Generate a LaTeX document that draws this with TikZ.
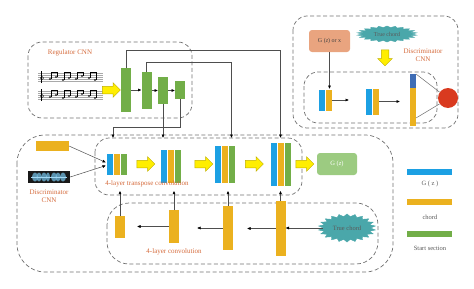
\documentclass[tikz,border=0pt]{standalone}
\usepackage{fontspec}
\setmainfont{Liberation Serif}
\usetikzlibrary{positioning,arrows.meta,calc,shapes.geometric,shapes.arrows}
\definecolor{azul}{HTML}{1CA0E3}
\definecolor{azuloscuro}{HTML}{3F6DB5}
\definecolor{ambar}{HTML}{EBB11F}
\definecolor{verde}{HTML}{72AE48}
\definecolor{verdeclaro}{HTML}{9CCB81}
\definecolor{naranjo}{HTML}{D4693A}
\definecolor{gris}{HTML}{707070}
\definecolor{salmon}{HTML}{E9A47F}
\definecolor{turquesa}{HTML}{4AA7AA}
\definecolor{amarillo}{HTML}{FFEE00}
\definecolor{oliva}{HTML}{BFAE00}
\definecolor{rojo}{HTML}{D93A1F}
% three stripes: name, centre of the blue one, height
\newcommand{\trio}[3]{%
  \node[strip,fill=azul,minimum height=#3] (#1b) at #2 {};
  \node[strip,fill=ambar,minimum height=#3,right=0pt of #1b] (#1y) {};
  \node[strip,fill=verde,minimum height=#3,right=0pt of #1y] (#1g) {};}
\newcommand{\duo}[3]{%
  \node[strip,fill=azul,minimum height=#3] (#1b) at #2 {};
  \node[strip,fill=ambar,minimum height=#3,right=0pt of #1b] (#1y) {};}

\begin{document}
\begin{tikzpicture}[x=1pt,y=-1pt,
    grp/.style={draw=gris,dash pattern=on 4pt off 2.5pt,line width=0.7pt,rounded corners=#1},
    grp/.default=14pt,
    strip/.style={minimum width=7pt,inner sep=0pt,outer sep=0pt,draw=white,line width=0.3pt},
    vbar/.style={minimum width=10pt,inner sep=0pt,outer sep=0pt},
    fl/.style={-{Latex[length=3.5pt,width=3pt,black]},draw=gris!70!black,line width=0.5pt},
    yarr/.style={single arrow,fill=amarillo,draw=oliva,line width=0.5pt,minimum height=18pt,
                 single arrow head extend=3.5pt,inner sep=3.5pt},
    burst/.style={star,star points=22,star point ratio=1.22,fill=turquesa,draw=turquesa,inner sep=0pt},
    txt/.style={font=\fontsize{7}{8}\selectfont,text=naranjo,align=center},
    lgd/.style={font=\fontsize{6.5}{7.5}\selectfont,text=gris!80!black,align=center}]
  \useasboundingbox (0,0) rectangle (474,289);

  % dashed groups
  \draw[grp] (28,42) rectangle (192,118);
  \draw[grp=28pt] (17,135) rectangle (393,272);
  \draw[grp] (95,138) rectangle (302,195);
  \draw[grp=22pt] (107,203) rectangle (378,264);
  \draw[grp] (293,16) rectangle (458,128);
  \draw[grp] (304,72) rectangle (437,123);

  % regulator CNN
  \node[txt] (regt) at (70,53) {Regulator CNN};
  \foreach \s in {73,91}{
    \foreach \k in {0,...,4}
      \draw[gris!60,line width=0.25pt] (38,\s+2*\k) -- (103,\s+2*\k);
    \draw[line width=0.6pt] (41,\s+10) -- (41,\s-2);
    \draw[line width=0.4pt] (42,\s+5) circle (1.6pt);
    \foreach \x/\h in {50/6,56/4,63/7,69/5,76/6,82/3,89/5,95/7}{
      \fill (\x,\s+\h) ellipse (1.1pt and 0.8pt);
      \draw[line width=0.3pt] (\x+1,\s+\h) -- (\x+1,\s-1);}
    \draw[line width=0.8pt] (51,\s-1) -- (57,\s-1) (64,\s-1) -- (70,\s-1)
                           (77,\s-1) -- (83,\s-1) (90,\s-1) -- (96,\s-1);
  }
  \node[yarr] (ra) at (109.5,90) {};
  \node[vbar,fill=verde,minimum height=44pt] (r1) at (126,90) {};
  \node[vbar,fill=verde,minimum height=37pt] (r2) at (146.5,90.5) {};
  \node[vbar,fill=verde,minimum height=27pt] (r3) at (163,90.5) {};
  \node[vbar,fill=verde,minimum height=18pt] (r4) at (180,90) {};
  \draw[fl] (r1.east) -- (r1.east -| r2.west);
  \draw[fl] (r2.east) -- (r2.east -| r3.west);
  \draw[fl] (r3.east) -- (r3.east -| r4.west);

  % transpose convolution
  \trio{g1}{(109.5,164)}{22pt}
  \trio{g2}{(163.5,166)}{34pt}
  \trio{g3}{(217.5,164)}{38pt}
  \trio{g4}{(273.5,164)}{44pt}
  \node[yarr] at (144,164) {};
  \node[yarr] at (202,164) {};
  \node[yarr] at (252.5,164) {};
  \node[yarr] at (303,164) {};
  \node[rounded corners=3pt,fill=verdeclaro,minimum width=40pt,minimum height=22pt,
        font=\fontsize{6.5}{7.5}\selectfont,text=white] (gz) at (337,164) {G (\textit{z})};
  \node[txt] (ttl) at (147,184) {4-layer transpose convolution};

  \node[vbar,fill=ambar,minimum width=33pt,minimum height=10pt] (ybar) at (52.5,146) {};
  \node[fill=black!90,minimum width=42pt,minimum height=12pt,inner sep=0pt] (spec) at (49,177) {};
  \foreach \x/\r in {35/3,39/2.5,44/3,48/2,54/3,58/2.5,63/3}
    \fill[azul!60!white,opacity=0.7] (\x,177) ellipse (\r pt and 4.5pt);
  \draw[azul!40!white,line width=0.3pt] (31,177) -- (67,177);
  \node[txt] (dsct) at (49,196) {Discriminator\\CNN};
  \draw[fl] (ybar.east) -- ([yshift=1.5pt]g1b.west);
  \draw[fl] (spec.east) -- ([yshift=-1.5pt]g1b.west);

  % convolution
  \node[vbar,fill=ambar,minimum height=22pt] (c1) at (120,227) {};
  \node[vbar,fill=ambar,minimum height=33pt] (c2) at (174,226.5) {};
  \node[vbar,fill=ambar,minimum height=44pt] (c3) at (228,228) {};
  \node[vbar,fill=ambar,minimum height=55pt] (c4) at (280.5,228.5) {};
  \node[burst,minimum size=28pt,xscale=2.05] (tc2) at (347,228) {};
  \node[lgd,text=gris!80!black] at (tc2) {True chord};
  \node[txt] (ctl) at (174,252) {4-layer convolution};
  \draw[fl] (tc2.west) -- (tc2.west -| c4.east);
  \draw[fl,shorten >=14pt] (c4.west) -- (c4.west -| c3.east);
  \draw[fl,shorten >=18pt] (c3.west) -- (c3.west -| c2.east);
  \draw[fl,shorten >=12pt] (c2.west) -- (c2.west -| c1.east);
  \foreach \c in {c1,c2,c3,c4}
    \draw[fl] (\c.north) -- (\c.north |- ttl.south);

  % links from the regulator
  \coordinate (k1) at (0,50);
  \coordinate (k2) at (0,62);
  \coordinate (k4) at (0,127);
  \coordinate (tt) at (0,138);
  \draw[fl] (r1.north) |- (g4y |- k1) -- (g4y |- tt);
  \draw[fl] (r2.north) |- (g3g |- k2) -- (g3g |- tt);
  \draw[fl] (r3.south) -- (r3.south |- tt);
  \draw[fl] (r4.south) |- (g1b.east |- k4) -- (g1b.east |- tt);

  % discriminator CNN
  \node[rounded corners=3pt,fill=salmon,minimum width=41pt,minimum height=22pt,
        font=\fontsize{6}{7}\selectfont,text=black!75] (gx) at (329.5,41) {G (\textit{z}) or x};
  \node[burst,minimum size=16pt,xscale=3.75] (tc1) at (387,34) {};
  \node[lgd,font=\fontsize{6}{7}\selectfont] at (tc1) {True chord};
  \node[yarr,shape border rotate=270,minimum height=16pt] (da) at (385,56) {};
  \node[txt] (dsc2) at (423,55.5) {Discriminator\\CNN};
  \duo{dA}{(321.5,100)}{22pt}
  \duo{dB}{(368.5,101.5)}{27pt}
  \node[vbar,minimum width=6pt,fill=azuloscuro,minimum height=14pt] (dCb) at (413,81) {};
  \node[vbar,minimum width=6pt,fill=ambar,minimum height=38pt] (dCy) at (413,107) {};
  \node[circle,fill=rojo,minimum size=20pt,inner sep=0pt] (out) at (448,98) {};
  \draw[fl] (gx.south) -- (gx.south |- dAy.north);
  \draw[fl,shorten >=16pt] (dAy.east) -- (dAy.east -| dBb.west);
  \draw[fl,shorten >=10pt] (dBy.east) -- (dBy.east -| dCy.west);
  \draw[gris,line width=0.5pt] (dCb.north east) -- (out.145);
  \draw[gris,line width=0.5pt] ([yshift=8pt]dCy.south east) -- (out.215);

  % legend
  \node[vbar,fill=azul,minimum width=45pt,minimum height=6pt] (lb) at (429.5,172) {};
  \node[lgd] (lbt) at (430,184) {G ( z )};
  \node[vbar,fill=ambar,minimum width=45pt,minimum height=6pt] (ly) at (429.5,201.5) {};
  \node[lgd] (lyt) at (430,217) {chord};
  \node[vbar,fill=verde,minimum width=45pt,minimum height=6pt] (lg) at (429.5,234) {};
  \node[lgd] (lgt) at (430,248) {Start section};
\end{tikzpicture}
\end{document}
